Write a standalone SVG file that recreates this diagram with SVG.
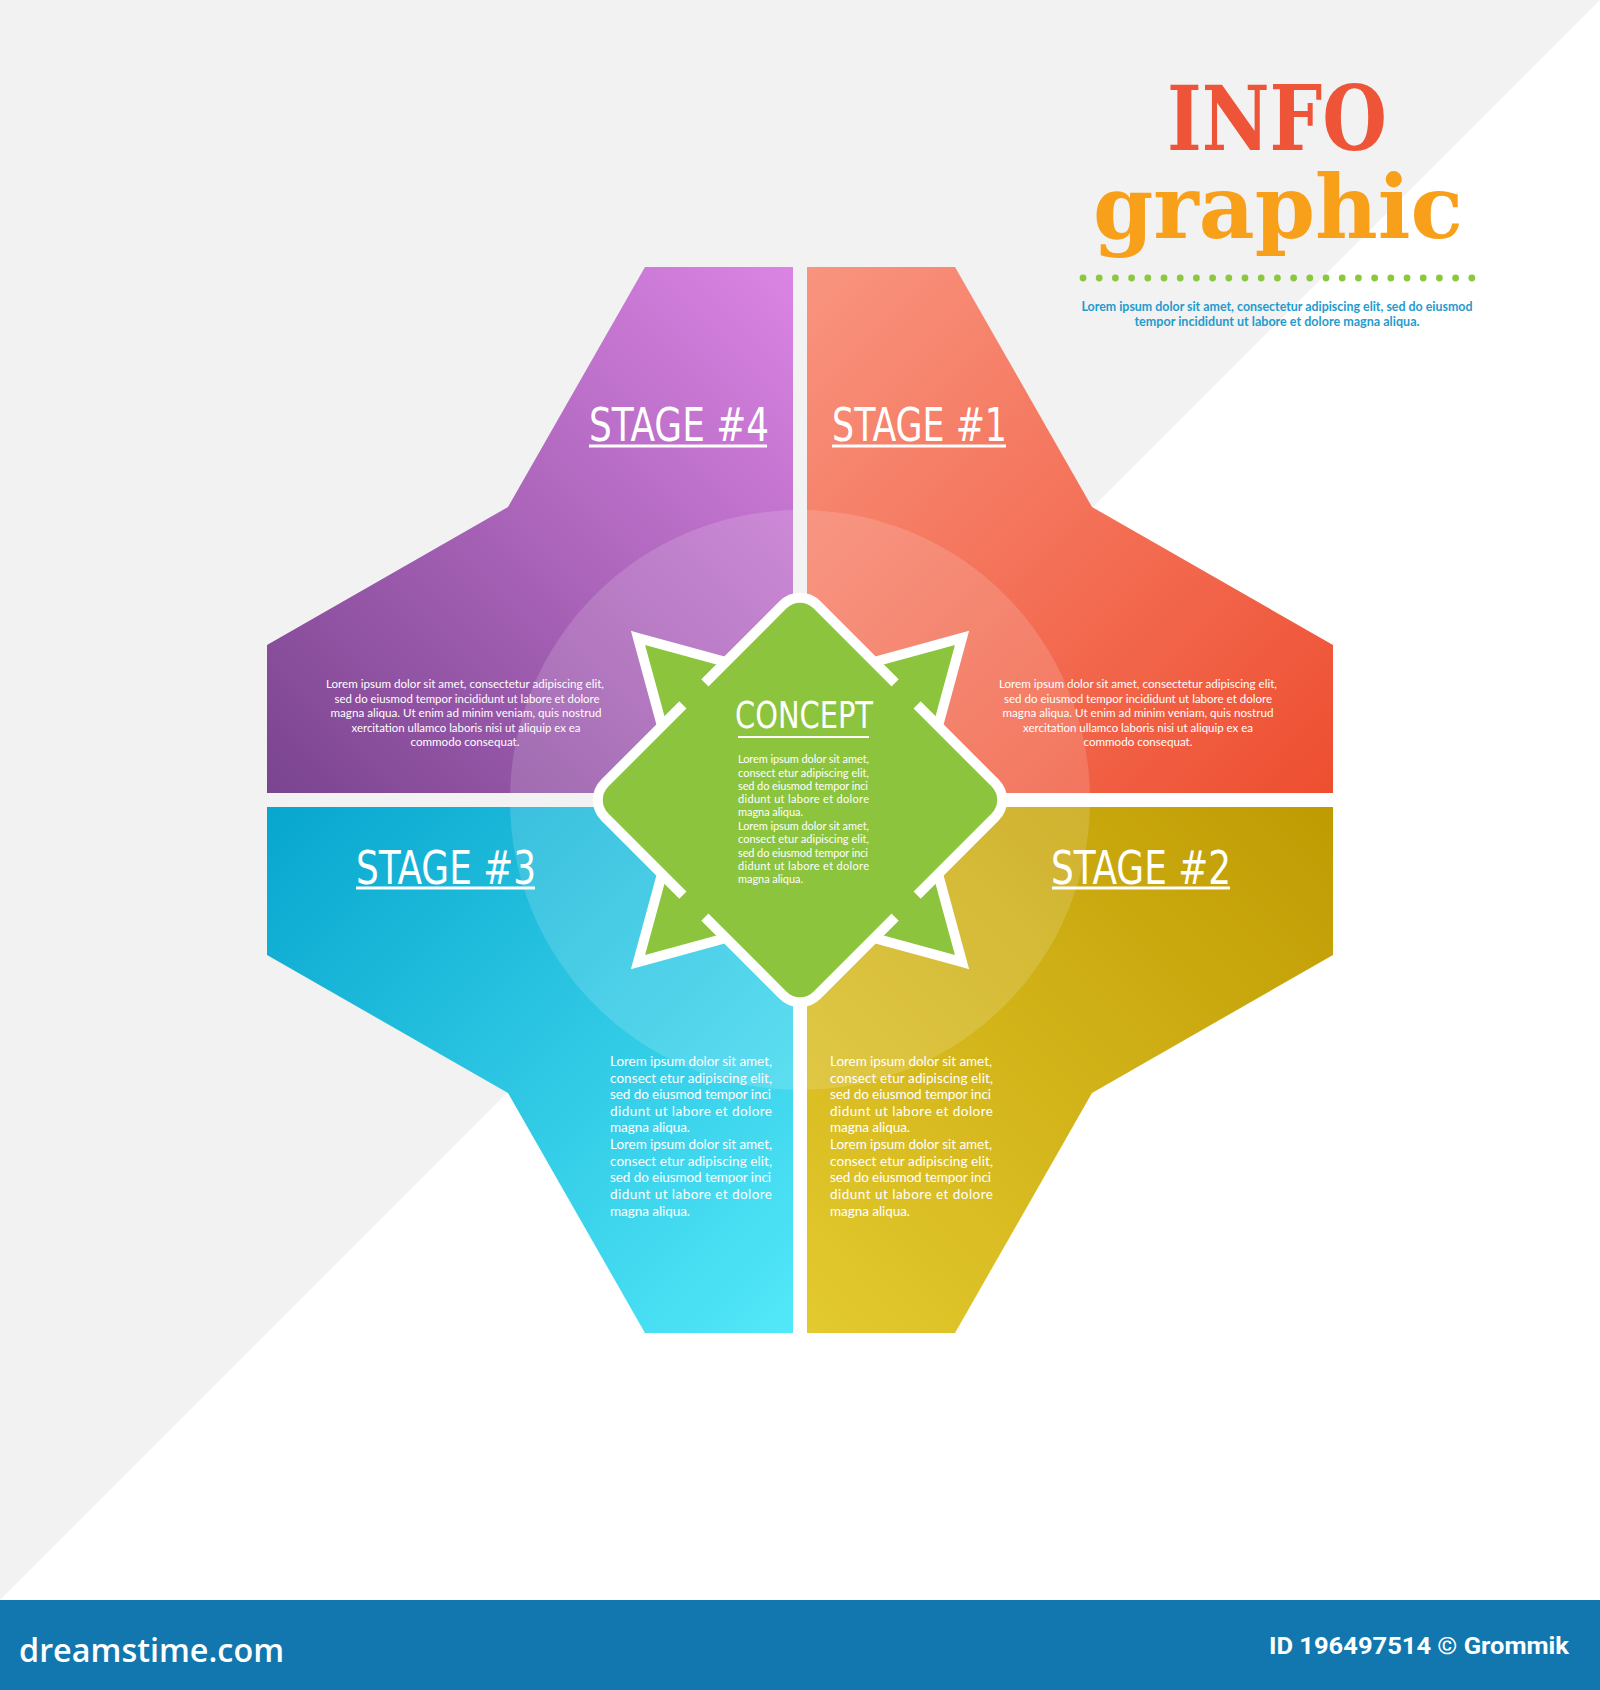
<svg xmlns="http://www.w3.org/2000/svg" xmlns:xlink="http://www.w3.org/1999/xlink" width="1600" height="1690" viewBox="0 0 1600 1690">
<defs>
<style>
.stage{font-family:"Liberation Sans Narrow","DejaVu Sans Condensed","Liberation Sans",sans-serif;font-size:46px;fill:#ffffff;}
.uline{stroke:#ffffff;stroke-width:3;}
.body{font-family:Lato,"Open Sans","Liberation Sans",sans-serif;fill:#ffffff;}
.p1{font-size:11.5px;text-anchor:middle;}
.p2{font-size:13.5px;}
.p3{font-size:11px;}
.edge{fill:#8cc43e;stroke:#ffffff;stroke-width:10;stroke-linejoin:miter;stroke-miterlimit:10;}
.patch{fill:#8cc43e;}
</style>
<linearGradient id="gPurple" gradientUnits="userSpaceOnUse" x1="793" y1="267" x2="267" y2="793">
<stop offset="0" stop-color="#db84e4"/><stop offset="1" stop-color="#7a448f"/>
</linearGradient>
<linearGradient id="gRed" gradientUnits="userSpaceOnUse" x1="807" y1="267" x2="1333" y2="793">
<stop offset="0" stop-color="#f9947f"/><stop offset="1" stop-color="#ee4e30"/>
</linearGradient>
<linearGradient id="gCyan" gradientUnits="userSpaceOnUse" x1="267" y1="807" x2="793" y2="1333">
<stop offset="0" stop-color="#07a6ce"/><stop offset="1" stop-color="#53e8f9"/>
</linearGradient>
<linearGradient id="gYellow" gradientUnits="userSpaceOnUse" x1="1333" y1="807" x2="807" y2="1333">
<stop offset="0" stop-color="#bf9b02"/><stop offset="1" stop-color="#e3ca2e"/>
</linearGradient>
<clipPath id="quadClip">
<polygon points="645,267 793,267 793,793 267,793 267,645 508,507"/>
<polygon points="807,267 955,267 1092,507 1333,645 1333,793 807,793"/>
<polygon points="267,807 793,807 793,1333 645,1333 508,1093 267,955"/>
<polygon points="807,807 1333,807 1333,955 1092,1093 955,1333 807,1333"/>
</clipPath>
<polygon id="arrowShape" class="edge" points="638,638 726,662 662,726"/>
<polygon id="gapPatch" class="patch" points="700,678 678,700 690,712 712,690"/>
</defs>

<!-- background -->
<rect x="0" y="0" width="1600" height="1690" fill="#ffffff"/>
<polygon points="0,0 1600,0 0,1600" fill="#f2f2f2"/>
<rect x="0" y="1600" width="1600" height="90" fill="#1277ae"/>

<!-- header -->
<g id="title">
<text x="1167" y="150" textLength="220" lengthAdjust="spacingAndGlyphs" font-family="'DejaVu Serif','Liberation Serif',serif" font-weight="bold" font-size="90" fill="#ee5538">INFO</text>
<text x="1093" y="238" textLength="370" lengthAdjust="spacingAndGlyphs" font-family="'DejaVu Serif','Liberation Serif',serif" font-weight="bold" font-size="88" fill="#f9a01b">graphic</text>
<g fill="#8dc63f">
<circle cx="1083" cy="278" r="3.4"/><circle cx="1099.2" cy="278" r="3.4"/><circle cx="1115.4" cy="278" r="3.4"/><circle cx="1131.6" cy="278" r="3.4"/><circle cx="1147.8" cy="278" r="3.4"/>
<circle cx="1164" cy="278" r="3.4"/><circle cx="1180.2" cy="278" r="3.4"/><circle cx="1196.4" cy="278" r="3.4"/><circle cx="1212.6" cy="278" r="3.4"/><circle cx="1228.8" cy="278" r="3.4"/>
<circle cx="1245" cy="278" r="3.4"/><circle cx="1261.2" cy="278" r="3.4"/><circle cx="1277.4" cy="278" r="3.4"/><circle cx="1293.6" cy="278" r="3.4"/><circle cx="1309.8" cy="278" r="3.4"/>
<circle cx="1326" cy="278" r="3.4"/><circle cx="1342.2" cy="278" r="3.4"/><circle cx="1358.4" cy="278" r="3.4"/><circle cx="1374.6" cy="278" r="3.4"/><circle cx="1390.8" cy="278" r="3.4"/>
<circle cx="1407" cy="278" r="3.4"/><circle cx="1423.2" cy="278" r="3.4"/><circle cx="1439.4" cy="278" r="3.4"/><circle cx="1455.6" cy="278" r="3.4"/><circle cx="1471.8" cy="278" r="3.4"/>
</g>
<g font-family="Lato,'Open Sans','Liberation Sans',sans-serif" font-weight="bold" font-size="12.5" fill="#1f9bcf" text-anchor="middle">
<text x="1277" y="311" textLength="391" lengthAdjust="spacingAndGlyphs">Lorem ipsum dolor sit amet, consectetur adipiscing elit, sed do eiusmod</text>
<text x="1277" y="326" textLength="285" lengthAdjust="spacingAndGlyphs">tempor incididunt ut labore et dolore magna aliqua.</text>
</g>
</g>

<!-- stage 4 -->
<g id="stage4">
<polygon points="645,267 793,267 793,793 267,793 267,645 508,507" fill="url(#gPurple)"/>
</g>
<!-- stage 1 -->
<g id="stage1">
<polygon points="807,267 955,267 1092,507 1333,645 1333,793 807,793" fill="url(#gRed)"/>
</g>
<!-- stage 3 -->
<g id="stage3">
<polygon points="267,807 793,807 793,1333 645,1333 508,1093 267,955" fill="url(#gCyan)"/>
</g>
<!-- stage 2 -->
<g id="stage2">
<polygon points="807,807 1333,807 1333,955 1092,1093 955,1333 807,1333" fill="url(#gYellow)"/>
</g>

<circle cx="800" cy="800" r="290" fill="#ffffff" opacity="0.15" clip-path="url(#quadClip)"/>

<!-- stage texts -->
<g id="stage4-text">
<text class="stage" x="589" y="441" textLength="180" lengthAdjust="spacingAndGlyphs">STAGE #4</text>
<line class="uline" x1="589" y1="446" x2="767" y2="446"/>
<g class="body p1">
<text x="465" y="688" textLength="278" lengthAdjust="spacingAndGlyphs">Lorem ipsum dolor sit amet, consectetur adipiscing elit,</text>
<text x="467" y="702.5" textLength="265" lengthAdjust="spacingAndGlyphs">sed do eiusmod tempor incididunt ut labore et dolore</text>
<text x="466" y="717" textLength="271" lengthAdjust="spacingAndGlyphs">magna aliqua. Ut enim ad minim veniam, quis nostrud</text>
<text x="466" y="731.5" textLength="229" lengthAdjust="spacingAndGlyphs">xercitation ullamco laboris nisi ut aliquip ex ea</text>
<text x="465" y="746" textLength="109" lengthAdjust="spacingAndGlyphs">commodo consequat.</text>
</g>
</g>
<g id="stage1-text">
<text class="stage" x="832" y="441" textLength="175" lengthAdjust="spacingAndGlyphs">STAGE #1</text>
<line class="uline" x1="832" y1="446" x2="1006" y2="446"/>
<g class="body p1">
<text x="1138" y="688" textLength="278" lengthAdjust="spacingAndGlyphs">Lorem ipsum dolor sit amet, consectetur adipiscing elit,</text>
<text x="1138" y="702.5" textLength="268" lengthAdjust="spacingAndGlyphs">sed do eiusmod tempor incididunt ut labore et dolore</text>
<text x="1138" y="717" textLength="271" lengthAdjust="spacingAndGlyphs">magna aliqua. Ut enim ad minim veniam, quis nostrud</text>
<text x="1138" y="731.5" textLength="230" lengthAdjust="spacingAndGlyphs">xercitation ullamco laboris nisi ut aliquip ex ea</text>
<text x="1138" y="746" textLength="109" lengthAdjust="spacingAndGlyphs">commodo consequat.</text>
</g>
</g>
<g id="stage3-text">
<text class="stage" x="356" y="884" textLength="180" lengthAdjust="spacingAndGlyphs">STAGE #3</text>
<line class="uline" x1="356" y1="888" x2="535" y2="888"/>
<g class="body p2">
<text x="610" y="1066" textLength="162" lengthAdjust="spacing">Lorem ipsum dolor sit amet,</text>
<text x="610" y="1083" textLength="162" lengthAdjust="spacing">consect etur adipiscing elit,</text>
<text x="610" y="1099" textLength="161" lengthAdjust="spacing">sed do eiusmod tempor inci</text>
<text x="610" y="1116" textLength="162" lengthAdjust="spacing">didunt ut labore et dolore</text>
<text x="610" y="1132" textLength="80" lengthAdjust="spacing">magna aliqua.</text>
<text x="610" y="1149" textLength="162" lengthAdjust="spacing">Lorem ipsum dolor sit amet,</text>
<text x="610" y="1166" textLength="162" lengthAdjust="spacing">consect etur adipiscing elit,</text>
<text x="610" y="1182" textLength="161" lengthAdjust="spacing">sed do eiusmod tempor inci</text>
<text x="610" y="1199" textLength="162" lengthAdjust="spacing">didunt ut labore et dolore</text>
<text x="610" y="1216" textLength="80" lengthAdjust="spacing">magna aliqua.</text>
</g>
</g>
<g id="stage2-text">
<text class="stage" x="1051" y="884" textLength="180" lengthAdjust="spacingAndGlyphs">STAGE #2</text>
<line class="uline" x1="1052" y1="888" x2="1230" y2="888"/>
<g class="body p2">
<text x="830" y="1066" textLength="162" lengthAdjust="spacing">Lorem ipsum dolor sit amet,</text>
<text x="830" y="1083" textLength="163" lengthAdjust="spacing">consect etur adipiscing elit,</text>
<text x="830" y="1099" textLength="161" lengthAdjust="spacing">sed do eiusmod tempor inci</text>
<text x="830" y="1116" textLength="163" lengthAdjust="spacing">didunt ut labore et dolore</text>
<text x="830" y="1132" textLength="80" lengthAdjust="spacing">magna aliqua.</text>
<text x="830" y="1149" textLength="162" lengthAdjust="spacing">Lorem ipsum dolor sit amet,</text>
<text x="830" y="1166" textLength="163" lengthAdjust="spacing">consect etur adipiscing elit,</text>
<text x="830" y="1182" textLength="161" lengthAdjust="spacing">sed do eiusmod tempor inci</text>
<text x="830" y="1199" textLength="163" lengthAdjust="spacing">didunt ut labore et dolore</text>
<text x="830" y="1216" textLength="80" lengthAdjust="spacing">magna aliqua.</text>
</g>
</g>

<!-- concept -->
<g id="concept">
<use xlink:href="#arrowShape"/>
<use xlink:href="#arrowShape" transform="rotate(90 800 800)"/>
<use xlink:href="#arrowShape" transform="rotate(180 800 800)"/>
<use xlink:href="#arrowShape" transform="rotate(270 800 800)"/>
<rect class="edge" x="-150" y="-150" width="300" height="300" rx="24" transform="translate(800 800) rotate(45)"/>
<use xlink:href="#gapPatch"/>
<use xlink:href="#gapPatch" transform="rotate(90 800 800)"/>
<use xlink:href="#gapPatch" transform="rotate(180 800 800)"/>
<use xlink:href="#gapPatch" transform="rotate(270 800 800)"/>
<text x="735" y="728" textLength="138" lengthAdjust="spacingAndGlyphs" font-family="'Liberation Sans Narrow','DejaVu Sans Condensed','Liberation Sans',sans-serif" font-size="37" fill="#ffffff">CONCEPT</text>
<line x1="738" y1="737" x2="869" y2="737" stroke="#ffffff" stroke-width="1.8"/>
<g class="body p3">
<text x="738" y="763" textLength="131" lengthAdjust="spacing">Lorem ipsum dolor sit amet,</text>
<text x="738" y="777" textLength="131" lengthAdjust="spacing">consect etur adipiscing elit,</text>
<text x="738" y="790" textLength="130" lengthAdjust="spacing">sed do eiusmod tempor inci</text>
<text x="738" y="803" textLength="131" lengthAdjust="spacing">didunt ut labore et dolore</text>
<text x="738" y="816" textLength="65" lengthAdjust="spacing">magna aliqua.</text>
<text x="738" y="830" textLength="131" lengthAdjust="spacing">Lorem ipsum dolor sit amet,</text>
<text x="738" y="843" textLength="131" lengthAdjust="spacing">consect etur adipiscing elit,</text>
<text x="738" y="857" textLength="130" lengthAdjust="spacing">sed do eiusmod tempor inci</text>
<text x="738" y="870" textLength="131" lengthAdjust="spacing">didunt ut labore et dolore</text>
<text x="738" y="883" textLength="65" lengthAdjust="spacing">magna aliqua.</text>
</g>
</g>

<!-- footer -->
<g id="footer">
<text x="19" y="1662" textLength="265" lengthAdjust="spacingAndGlyphs" font-family="'Open Sans',Lato,sans-serif" font-weight="600" font-size="32" fill="#ffffff">dreamstime.com</text>
<text x="1269" y="1654" textLength="300" lengthAdjust="spacingAndGlyphs" font-family="Roboto,'Liberation Sans',sans-serif" font-weight="bold" font-size="24" fill="#ffffff">ID 196497514 © Grommik</text>
</g>
</svg>
